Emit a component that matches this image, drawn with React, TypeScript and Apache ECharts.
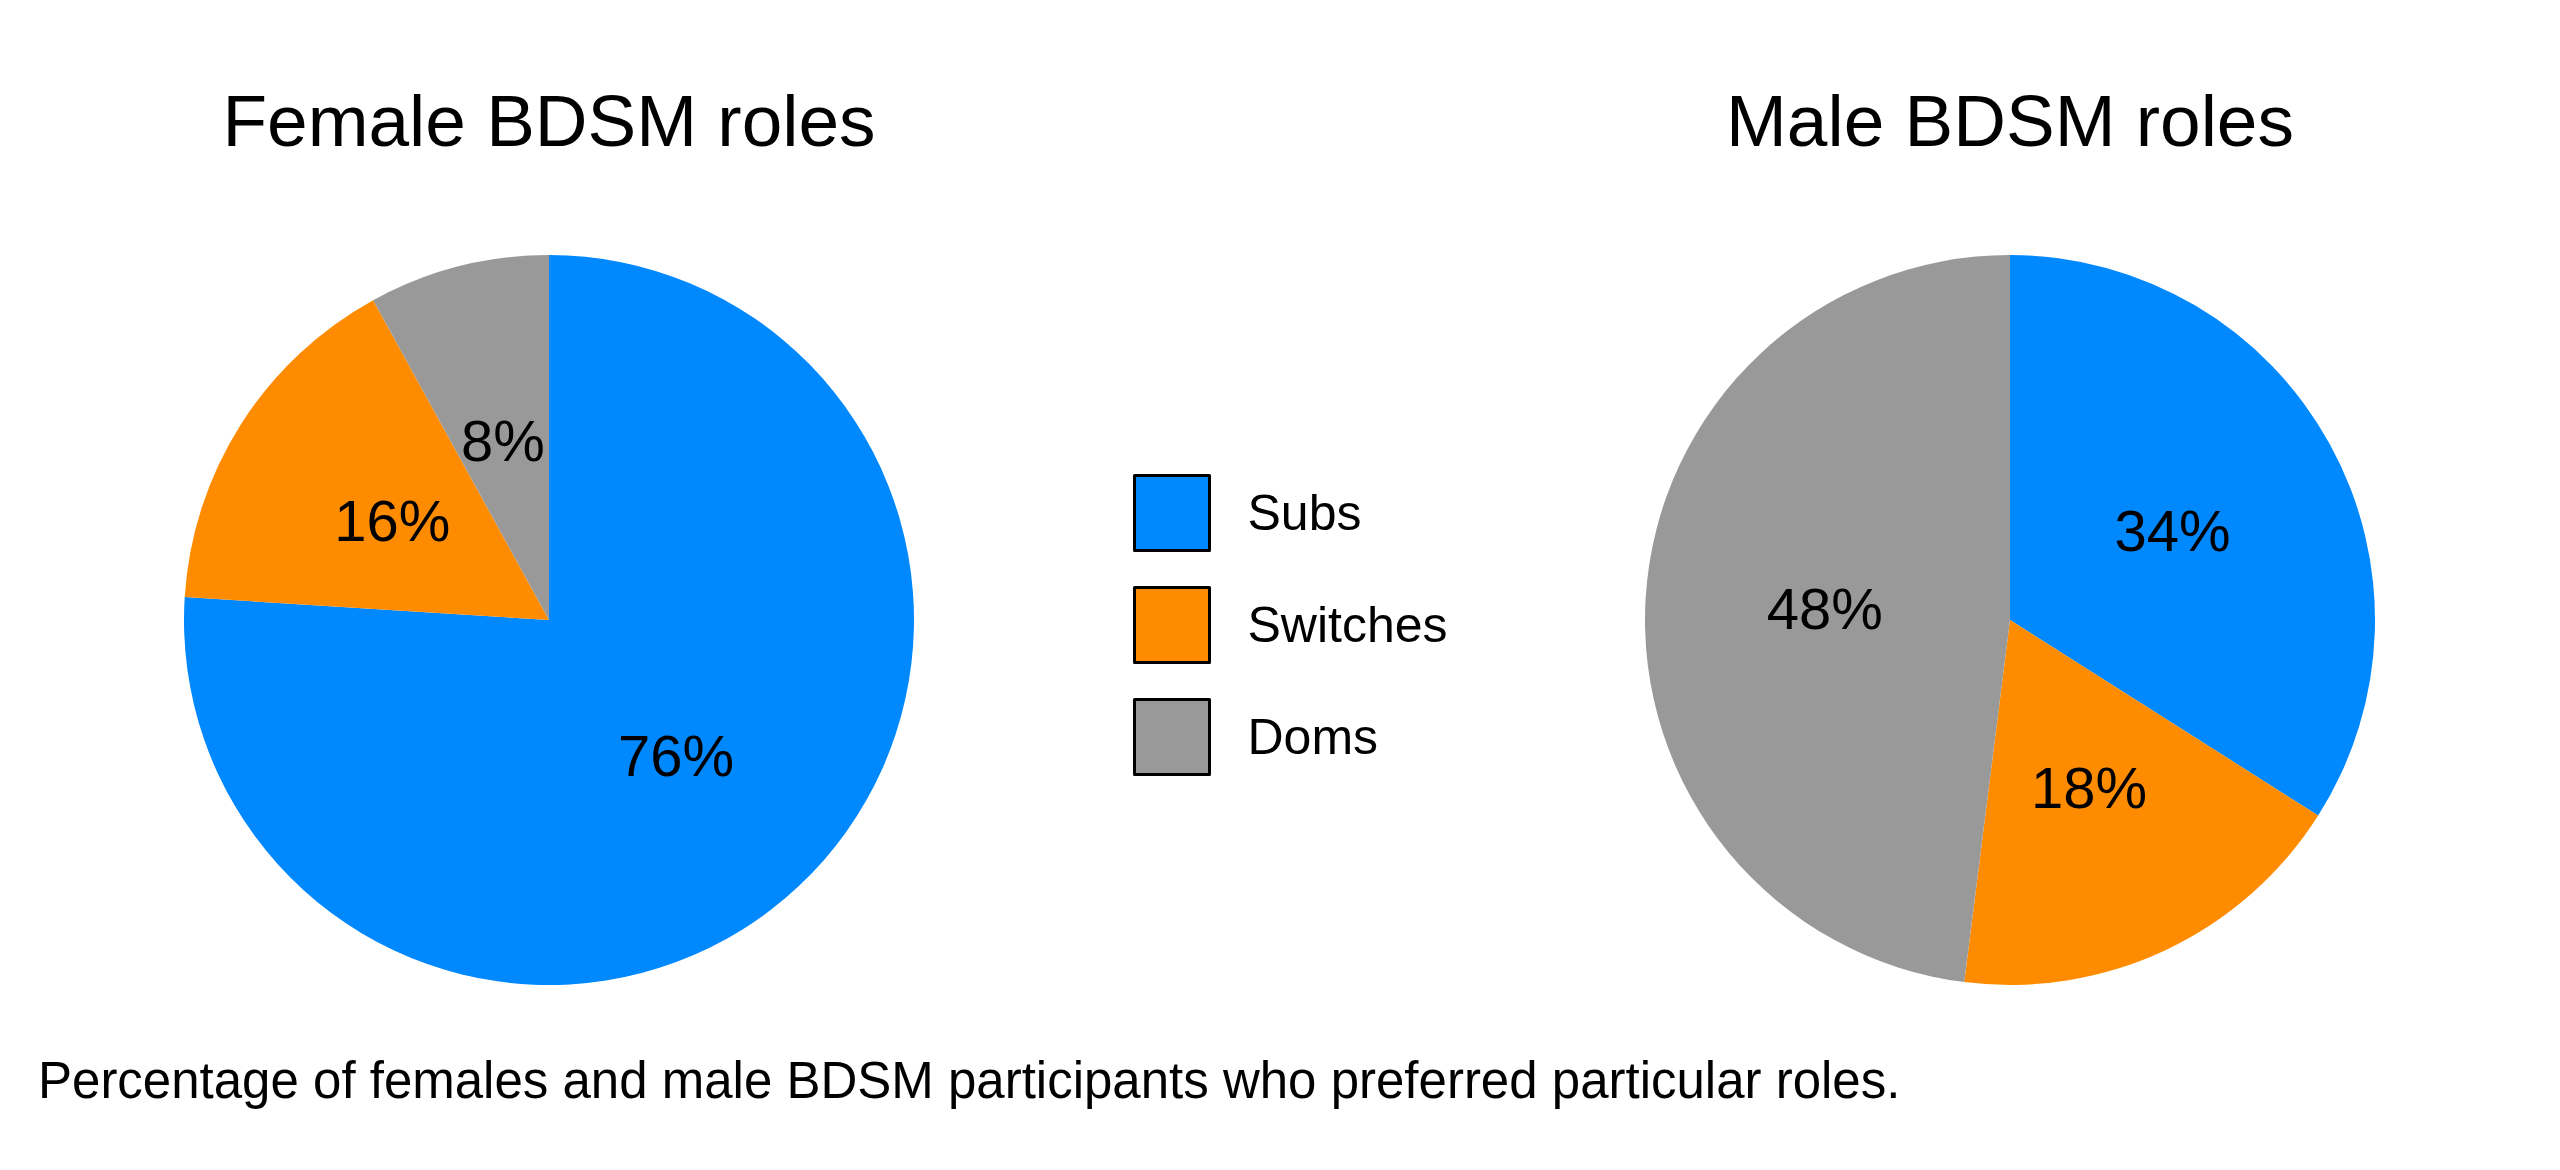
import React, { useEffect, useRef } from "react";
import * as echarts from "echarts";

const categories = ["Subs", "Switches", "Doms"];
const femaleValues = [76, 16, 8];
const maleValues = [34, 18, 48];
const colors = ["#0088FF", "#FF8C00", "#999999"];
const titles = ["Female BDSM roles", "Male BDSM roles"];
const caption = "Percentage of females and male BDSM participants who preferred particular roles.";

const FONT = "'Liberation Sans', Arial, sans-serif";

export default function App() {
  const ref = useRef<HTMLDivElement>(null);
  useEffect(() => {
    if (!ref.current) return;
    const chart = echarts.init(ref.current, null, { renderer: "svg" });
    const makeSeries = (values: number[], center: [number, number]) => ({
      type: "pie",
      center,
      radius: 365,
      startAngle: 90,
      clockwise: true,
      avoidLabelOverlap: false,
      data: categories.map((c, i) => ({ name: c, value: values[i], itemStyle: { color: colors[i] } })),
      itemStyle: { borderWidth: 0 },
      label: {
        show: true,
        position: "inside",
        formatter: "{c}%",
        color: "#000",
        fontSize: 58,
        fontFamily: FONT,
      },
      labelLine: { show: false },
      emphasis: { disabled: true },
    });
    chart.setOption({
      animation: false,
      backgroundColor: "#fff",
      color: colors,
      legend: {
        orient: "vertical",
        left: 1133,
        top: 474,
        padding: 0,
        itemWidth: 75,
        itemHeight: 75,
        itemGap: 34,
        icon: "rect",
        data: categories,
        itemStyle: { borderColor: "#000", borderWidth: 3 },
        textStyle: { fontSize: 50, color: "#000", fontFamily: FONT, padding: [0, 0, 0, 33] },
        selectedMode: false,
      },
      series: [makeSeries(femaleValues, [549, 620]), makeSeries(maleValues, [2010, 620])],
      graphic: [
        {
          type: "text",
          x: 549,
          y: 120,
          style: { text: titles[0], fontSize: 73, fontFamily: FONT, fill: "#000", textAlign: "center", textVerticalAlign: "middle" },
        },
        {
          type: "text",
          x: 2010,
          y: 120,
          style: { text: titles[1], fontSize: 73, fontFamily: FONT, fill: "#000", textAlign: "center", textVerticalAlign: "middle" },
        },
        {
          type: "text",
          x: 38,
          y: 1080,
          style: { text: caption, fontSize: 51, fontFamily: FONT, fill: "#000", textAlign: "left", textVerticalAlign: "middle" },
        },
      ],
    });
    return () => chart.dispose();
  }, []);
  return (
    <div
      ref={ref}
      style={{ position: "absolute", left: 0, top: 0, width: 2560, height: 1170 }}
    />
  );
}
